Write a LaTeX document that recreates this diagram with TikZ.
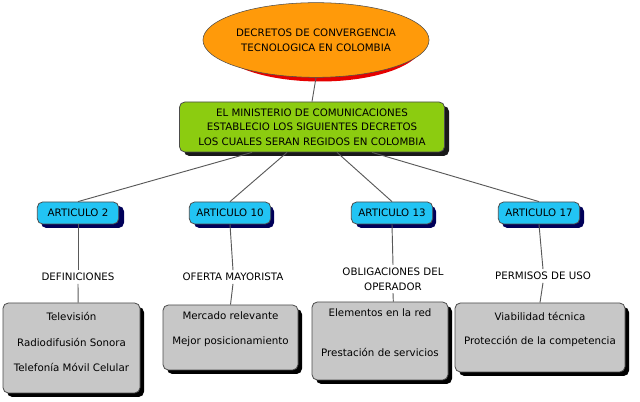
\documentclass[tikz,border=0pt]{standalone}
\usepackage{fontspec}
\setmainfont{DejaVu Sans}
\usetikzlibrary{shapes.geometric}
\definecolor{gr}{HTML}{8CCC10}
\definecolor{bl}{HTML}{22C4F4}
\definecolor{og}{HTML}{FF9A0A}
\begin{document}
\begin{tikzpicture}[x=0.75pt,y=-0.75pt,
  every node/.style={font=\fontsize{7.7}{11}\selectfont, align=center, inner sep=0pt},
  rbox/.style={draw=black!70, line width=0.6pt, rounded corners=4pt},
  lbl/.style={fill=white, inner sep=2pt},
  conn/.style={draw=black!65, line width=0.7pt}]
\useasboundingbox (0,0) rectangle (640,402);
% shadows
\fill[red!90!black] (320,44) ellipse (102.5 and 37.5);
\fill[black!90,rounded corners=4pt] (184,106) rectangle (449,156);
\foreach \a/\b in {37/120,190/270,352/432,498/580}
  \fill[blue!35!black,rounded corners=4pt] (\a+4,206) rectangle (\b+4,228);
\fill[black,rounded corners=4pt] (7,307) rectangle (144,397);
\fill[black,rounded corners=4pt] (167,309) rectangle (302,374);
\fill[black,rounded corners=4pt] (316,306) rectangle (452,384);
\fill[black,rounded corners=4pt] (459,307) rectangle (629,376);
% nodes
\node[ellipse, draw=black!70, fill=og, minimum width=154pt, minimum height=56pt] (top) at (316,40) {DECRETOS DE CONVERGENCIA\\TECNOLOGICA EN COLOMBIA};
\node[rbox, fill=gr, minimum width=198.75pt, minimum height=37.5pt] (min) at (312,127) {EL MINISTERIO DE COMUNICACIONES\\ESTABLECIO LOS SIGUIENTES DECRETOS\\LOS CUALES SERAN REGIDOS EN COLOMBIA};
\foreach \n/\x/\t in {a/78/ARTICULO 2,b/230/ARTICULO 10,c/392/ARTICULO 13,d/539/ARTICULO 17}
  \node[rbox, fill=bl, minimum width=61pt, minimum height=16.5pt] (\n) at (\x,213) {\t};
\node[lbl] (la) at (78,277) {DEFINICIONES};
\node[lbl] (lb) at (233,277) {OFERTA MAYORISTA};
\node[lbl] (lc) at (393,279) {OBLIGACIONES DEL\\OPERADOR};
\node[lbl] (ld) at (543,276) {PERMISOS DE USO};
\node[rbox, fill=black!22, minimum width=102.75pt, minimum height=67.5pt] (ga) at (71.5,348) {};
\node at (71.5,316) {Televisión};
\node at (71.5,342) {Radiodifusión Sonora};
\node at (71.5,367) {Telefonía Móvil Celular};
\node[rbox, fill=black!22, minimum width=101.25pt, minimum height=48.75pt] (gb) at (230.5,337.5) {};
\node at (230.5,316) {Mercado relevante};
\node at (230.5,342) {Mejor posicionamiento};
\node[rbox, fill=black!22, minimum width=102pt, minimum height=58.5pt] (gc) at (380,341) {};
\node at (380,313) {Elementos en la red};
\node at (380,352) {Prestación de servicios};
\node[rbox, fill=black!22, minimum width=127.5pt, minimum height=51.75pt] (gd) at (540,337.5) {};
\node at (540,316) {Viabilidad técnica};
\node at (540,341) {Protección de la competencia};
% connectors
\draw[conn] (top.south) -- (min.north);
\foreach \n/\dx in {a/-60,b/-25,c/25,d/60}
  \draw[conn] ([xshift=\dx*0.75pt]min.south) -- (\n.north);
\draw[conn] (a.south) -- (la.north); \draw[conn] (la.south) -- ([xshift=5pt]ga.north);
\draw[conn] (b.south) -- (lb.north); \draw[conn] (lb.south) -- (gb.north);
\draw[conn] (c.south) -- (lc.north); \draw[conn] (lc.south) -- ([xshift=10pt]gc.north);
\draw[conn] (d.south) -- (ld.north); \draw[conn] (ld.south) -- (gd.north);
\end{tikzpicture}
\end{document}
